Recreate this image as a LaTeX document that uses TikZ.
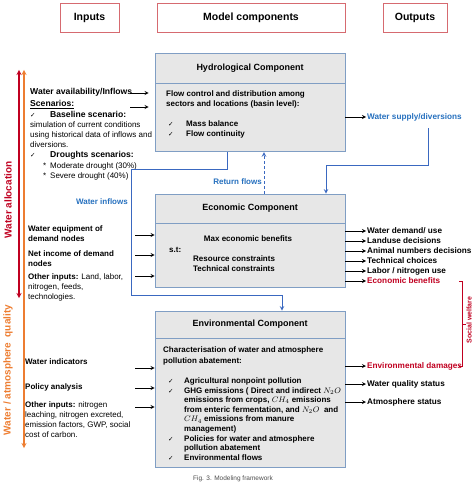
\documentclass[tikz,border=0pt]{standalone}
\usepackage{fontspec}
\setmainfont{Liberation Sans}
\newfontfamily\checkfont{DejaVu Sans}
\usepackage{tikz}
\usetikzlibrary{arrows, positioning, calc}

\definecolor{boxfill}{RGB}{231,231,231}
\definecolor{boxline}{RGB}{128,158,196}
\definecolor{headline}{RGB}{214,106,112}
\definecolor{flowblue}{RGB}{58,104,192}
\definecolor{labelblue}{RGB}{38,112,190}
\definecolor{welfarered}{RGB}{192,0,32}
\definecolor{qualorange}{RGB}{237,125,49}

\newcommand{\chkmark}[1]{\makebox[#1][l]{\checkfont\fontsize{6.5}{8}\selectfont ✓}}
\newcommand{\indnt}{\hspace*{18pt}}

\tikzstyle{arrow} = [line width=0.8pt,->,>=stealth]
\tikzstyle{headbox} = [draw=headline, fill=white, line width=0.8pt, minimum height=29pt, inner sep=0pt, font=\fontsize{10.5}{12}\selectfont\bfseries]
\tikzstyle{comphead} = [draw=boxline, fill=boxfill, line width=0.8pt, minimum width=190pt, font=\fontsize{9}{11}\selectfont\bfseries]
\tikzstyle{compbody} = [draw=boxline, fill=boxfill, line width=0.8pt, minimum width=190pt]
\tikzstyle{txt} = [anchor=north west, align=left, inner sep=0pt]
\tikzstyle{outtxt} = [anchor=west, inner sep=1pt, font=\fontsize{8.2}{10}\selectfont\bfseries]
\tikzstyle{flow} = [flowblue, line width=1pt,->,>=stealth]

\begin{document}
\begin{tikzpicture}[x=1pt, y=-1pt, font=\fontsize{8}{10}\selectfont]
    \useasboundingbox (0,0) rectangle (474,484);

    % Column headers
    \node[headbox, minimum width=59pt] (inputs) at (89.5,17.5) {Inputs};
    \node[headbox, minimum width=188pt] (model) at (251,17.5) {Model components};
    \node[headbox, minimum width=64pt] (outputs) at (415,17.5) {Outputs};

    % Axes on the left
    \coordinate (rtop) at (19,70);
    \coordinate (rbot) at (19,298);
    \coordinate (otop) at (24,70);
    \coordinate (obot) at (24,448);
    \draw[welfarered, line width=1.2pt, <->, >=stealth] (rtop) -- (rbot);
    \draw[qualorange, line width=1.2pt, <->, >=stealth] (otop) -- (obot);
    \node[rotate=90, welfarered, font=\fontsize{10}{12}\selectfont\bfseries] (walloc) at (8,200) {Water allocation};
    \node[rotate=90, qualorange, font=\fontsize{10}{12}\selectfont\bfseries] (wqual) at (8,370) {Water / atmosphere\ \ quality};

    % Hydrological component
    \node[comphead, minimum height=30pt] (hydh) at (250,68) {Hydrological Component};
    \node[compbody, minimum height=68pt, below=0pt of hydh] (hydb) {};
    \node[txt, font=\fontsize{8}{10}\selectfont\bfseries] (hydt) at (166,90.5)
        {Flow control and distribution among\\sectors and locations (basin level):\\[10pt]%
         \hspace*{2pt}\chkmark{18pt}Mass balance\\\hspace*{2pt}\chkmark{18pt}Flow continuity};

    % Economic component
    \node[comphead, minimum height=29pt] (ecoh) at (250,208.5) {Economic Component};
    \node[compbody, minimum height=64pt, below=0pt of ecoh] (ecob) {};
    \node[font=\fontsize{8}{10}\selectfont\bfseries, inner sep=0pt] (maxb) at (248,239) {Max economic benefits};
    \node[anchor=west, font=\fontsize{8}{10}\selectfont\bfseries, inner sep=0pt] (st) at (169,250) {s.t:};
    \node[txt, font=\fontsize{8}{10}\selectfont\bfseries] (cons) at (193,255.5) {Resource constraints\\Technical constraints};

    % Environmental component
    \node[comphead, minimum height=27pt] (envh) at (250,324.5) {Environmental Component};
    \node[compbody, minimum height=129pt, below=0pt of envh] (envb) {};
    \node[txt, font=\fontsize{8}{11}\selectfont\bfseries] (envc) at (163,346.5)
        {Characterisation of water and atmosphere\\pollution abatement:};
    \node[txt, font=\fontsize{8}{9.6}\selectfont\bfseries] (envl) at (166,377.5)
        {\hspace*{2pt}\chkmark{16pt}Agricultural nonpoint pollution\\
         \hspace*{2pt}\chkmark{16pt}GHG emissions ( Direct and indirect $N_2O$\\
         \indnt emissions from crops, $CH_4$ emissions\\
         \indnt from enteric fermentation, and $N_2O$\ \ and\\
         \indnt $CH_4$ emissions from manure\\
         \indnt management)\\
         \hspace*{2pt}\chkmark{16pt}Policies for water and atmosphere\\
         \indnt pollution abatement\\
         \hspace*{2pt}\chkmark{16pt}Environmental flows};

    % Inputs: hydrological
    \node[anchor=west, inner sep=0pt, font=\fontsize{8.6}{10}\selectfont\bfseries] (wavail) at (30,92) {Water availability/Inflows};
    \node[txt, font=\fontsize{8}{10.2}\selectfont] (scen) at (30,100.5)
        {\textbf{\fontsize{8.6}{10.2}\selectfont\underline{Scenarios:}}\\
         \chkmark{20pt}\textbf{\fontsize{8.6}{10.2}\selectfont Baseline scenario:}\\
         simulation of current conditions\\
         using historical data of inflows and\\
         diversions.\\
         \chkmark{20pt}\textbf{\fontsize{8.6}{10.2}\selectfont Droughts scenarios:}\\
         \hspace*{13pt}\makebox[7pt][l]{*}Moderate drought (30\%)\\
         \hspace*{13pt}\makebox[7pt][l]{*}Severe drought (40\%)};
    \coordinate (hin1) at (130,93);
    \coordinate (hin2) at (130,107);
    \draw[arrow, shorten >=6pt] (hin1) -- (hin1 -| hydb.west);
    \draw[arrow, shorten >=6pt] (hin2) -- (hin2 -| hydb.west);

    % Inputs: economic
    \node[txt, font=\fontsize{8}{10}\selectfont\bfseries] (weq) at (28,225.5) {Water equipment of\\demand nodes};
    \node[txt, font=\fontsize{8}{10}\selectfont\bfseries] (netinc) at (28,250.5) {Net income of demand\\nodes};
    \node[txt] (ecoother) at (28,273.5) {\textbf{Other inputs:} Land, labor,\\nitrogen, feeds,\\technologies.};
    \coordinate (ein1) at (135,235);
    \coordinate (ein2) at (135,255);
    \coordinate (ein3) at (135,276);
    \draw[arrow] (ein1) -- (ein1 -| ecob.west);
    \draw[arrow] (ein2) -- (ein2 -| ecob.west);
    \draw[arrow] (ein3) -- (ein3 -| ecob.west);

    % Inputs: environmental
    \node[anchor=west, inner sep=0pt, font=\fontsize{8}{10}\selectfont\bfseries] (windic) at (25,362) {Water indicators};
    \node[anchor=west, inner sep=0pt, font=\fontsize{8}{10}\selectfont\bfseries] (polan) at (25,387) {Policy analysis};
    \node[txt] (envother) at (25,401.5) {\textbf{Other inputs:} nitrogen\\leaching, nitrogen excreted,\\emission factors, GWP, social\\cost of carbon.};
    \coordinate (vin1) at (135,368);
    \coordinate (vin2) at (135,388);
    \coordinate (vin3) at (135,407);
    \draw[arrow] (vin1) -- (vin1 -| envb.west);
    \draw[arrow] (vin2) -- (vin2 -| envb.west);
    \draw[arrow] (vin3) -- (vin3 -| envb.west);

    % Outputs
    \node[outtxt, labelblue] (wsup) at (366,117) {Water supply/diversions};
    \draw[arrow] (hydb.east |- wsup.west) -- (wsup.west);

    \node[outtxt] (odem) at (366,231) {Water demand/ use};
    \node[outtxt] (oland) at (366,241) {Landuse decisions};
    \node[outtxt] (oanim) at (366,251) {Animal numbers decisions};
    \node[outtxt] (otech) at (366,261) {Technical choices};
    \node[outtxt] (olab) at (366,271) {Labor / nitrogen use};
    \node[outtxt, welfarered] (oben) at (366,281) {Economic benefits};
    \draw[arrow] (ecob.east |- odem.west) -- (odem.west);
    \draw[arrow] (ecob.east |- oland.west) -- (oland.west);
    \draw[arrow] (ecob.east |- oanim.west) -- (oanim.west);
    \draw[arrow] (ecob.east |- otech.west) -- (otech.west);
    \draw[arrow] (ecob.east |- olab.west) -- (olab.west);
    \draw[arrow] (ecob.east |- oben.west) -- (oben.west);

    \node[outtxt, welfarered] (odam) at (366,366) {Environmental damages};
    \node[outtxt] (oqual) at (366,384) {Water quality status};
    \node[outtxt] (oatm) at (366,402) {Atmosphere status};
    \draw[arrow] (envb.east |- odam.west) -- (odam.west);
    \draw[arrow] (envb.east |- oqual.west) -- (oqual.west);
    \draw[arrow] (envb.east |- oatm.west) -- (oatm.west);

    % Social welfare bracket
    \coordinate (swtop) at (462,281);
    \coordinate (swbot) at (462,366);
    \coordinate (swmid) at (462,324);
    \draw[welfarered, line width=0.8pt] ([xshift=-3pt]swtop) -- (swtop) -- (swbot) -- ([xshift=-3pt]swbot);
    \draw[welfarered, line width=0.8pt] (swmid) -- ++(4,0);
    \node[rotate=90, welfarered, inner sep=0pt, font=\fontsize{7}{8}\selectfont\bfseries] (swel) at (469,320) {Social welfare};

    % Water flows between components
    \coordinate (wi1) at (131,169);
    \coordinate (wi2) at (282,295);
    \draw[flow] ([xshift=-23pt]hydb.south) |- (wi1) |- (wi2) -- (wi2 |- envh.north);
    \node[anchor=east, labelblue, inner sep=0pt, font=\fontsize{8}{10}\selectfont\bfseries] (winf) at (128,202) {Water inflows};

    \draw[flow, dash pattern=on 3pt off 2pt] ([xshift=14pt]ecoh.north) -- ([xshift=14pt]hydb.south);
    \node[anchor=east, labelblue, inner sep=0pt, font=\fontsize{8}{10}\selectfont\bfseries] (retf) at (262,182) {Return flows};

    \coordinate (ws1) at (428,128);
    \coordinate (ws2) at (326,165);
    \draw[flow] (ws1) |- (ws2) -- (ws2 |- ecoh.north);

    % Caption
    \node[font=\fontsize{6.5}{8}\selectfont, black!70] (cap) at (233,478.5) {Fig. 3. Modeling framework};
\end{tikzpicture}
\end{document}
